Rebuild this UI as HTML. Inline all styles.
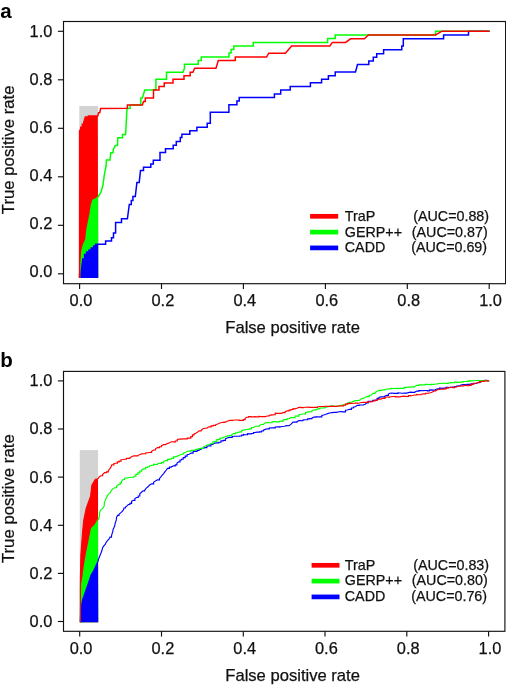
<!DOCTYPE html>
<html><head><meta charset="utf-8"><title>ROC curves</title>
<style>
html,body{margin:0;padding:0;background:#fff;}
svg{display:block;}
text{font-family:"Liberation Sans",Arial,Helvetica,sans-serif;fill:#111;stroke:#111;stroke-width:0.25px;}
.pl{font-size:20.5px;font-weight:bold;fill:#000;stroke:none;}
.tk{font-size:16.4px;}
.ax{font-size:16.75px;}
.lg{font-size:14.3px;}
</style></head>
<body>
<svg width="506" height="685" viewBox="0 0 506 685">
<rect width="506" height="685" fill="#fff"/>
<text x="0.2" y="17.5" class="pl">a</text>
<rect x="79.3" y="106" width="18.8" height="171.9" fill="#d3d3d3"/>
<polygon points="79.6,130.4 80.7,130.4 80.7,127.3 82.3,127.3 82.3,124.2 83.8,124.2 83.8,121.5 84.6,121.5 84.6,119.1 85.3,119.1 85.3,117.1 88.4,117.1 88.4,115.9 97.8,115.9 98.2,277.9 79.3,277.9" fill="#ff0000"/>
<polygon points="79.6,273.8 80.3,267.7 81.1,259.8 81.9,251.9 82.6,247.9 83.8,244 85.8,240 86.2,237.4 87,229.5 88.6,221.6 90.2,213.7 91.3,205.8 92.9,200.3 96.1,198.7 98.2,196.7 98.2,277.9 79.3,277.9" fill="#00ff00"/>
<polygon points="79.6,273.8 80.3,271.6 81.1,266.9 81.9,262.9 82.6,259 84.6,259 84.6,254.6 86.6,254.6 86.6,251.9 89,251.9 89,249.9 91.3,249.9 91.3,247.9 93.7,247.9 93.7,245.9 95.7,245.9 95.7,244.2 98.2,244.2 98.2,277.9 79.3,277.9" fill="#0000ff"/>
<polyline points="79.6,277.9 79.6,273.8 80.3,271.6 81.1,266.9 81.9,262.9 82.6,259 84.6,259 84.6,254.6 86.6,254.6 86.6,251.9 89,251.9 89,249.9 91.3,249.9 91.3,247.9 93.7,247.9 93.7,245.9 95.7,245.9 95.7,244.2 98.2,244.2 105.6,244.2 105.6,241.1 111.5,241.1 111.5,237.8 113.5,237.8 113.5,233 115.6,233 115.6,222.5 121.5,222.5 121.5,218.8 127.4,218.8 129.3,204.5 131.3,204.5 131.3,200.6 132.9,200.6 132.9,196.6 135.3,196.6 136.9,182.4 139.2,182.4 140.5,170.6 143.5,170.6 143.5,167.3 150.8,167.3 150.8,163.9 153.3,163.9 153.3,160.3 160,160.3 160,152.4 165.5,152.4 165.5,148.8 173.2,148.8 173.2,145.3 176.3,145.3 176.3,141.4 180.3,141.4 180.3,137.4 181.9,137.4 181.9,134.3 189.8,134.3 189.8,130.8 196.9,130.8 196.9,127.2 207.2,127.2 207.2,123.2 210.3,123.2 210.3,112.2 228.9,112.2 228.9,104.8 236.9,104.8 236.9,101 239.2,101 239.2,97.4 274.4,97.4 274.4,93.9 280.7,93.9 280.7,90.1 290.2,90.1 290.2,86.4 310.4,86.4 310.4,82.7 321.6,82.7 321.6,79.2 328.4,79.2 328.4,75.8 335.2,75.8 335.2,72 355.5,72 357.5,64.5 368.8,64.5 368.8,61 373.3,61 373.3,57.2 376.7,57.2 376.7,53.7 383.6,53.7 383.6,49.7 401.8,49.7 401.8,46 403.3,46 403.3,38.7 443.6,38.7 443.6,35.1 468.5,35.1 468.5,31.2 489.6,31.2" fill="none" stroke="#0000ff" stroke-width="1.5" stroke-linejoin="miter"/>
<polyline points="79.6,277.9 79.6,273.8 80.3,267.7 81.1,259.8 81.9,251.9 82.6,247.9 83.8,244 85.8,240 86.2,237.4 87,229.5 88.6,221.6 90.2,213.7 91.3,205.8 92.9,200.3 96.1,198.7 98.2,196.7 100.8,192.5 102.9,185.5 104.3,175 106,166.3 106.4,160.1 110,160.1 110.8,152.7 113,152.7 113.4,149.2 115.4,145.6 117.5,145.6 117.8,137.8 122.4,137.8 122.5,134.4 125.6,134.4 126.9,110 127.1,108.4 130.1,108.3 130.1,105 140.8,105 140.8,98 142.4,98 144.8,90 155.9,90 155.9,79.3 166.5,79.3 166.5,72.2 183.1,72.2 184.5,68.2 184.5,64.3 198.2,64.3 198.2,60.6 201.3,60.6 201.3,57 229,57 229,53.1 231.1,53.1 231.1,49.6 233.8,49.6 233.8,46 253.3,46 253.3,42.4 327.6,42.4 327.6,38.6 335.2,38.6 335.2,34.9 435.6,34.9 435.6,31.2 489.6,31.2" fill="none" stroke="#00ff00" stroke-width="1.5" stroke-linejoin="miter"/>
<polyline points="79.6,277.9 79.6,130.4 80.7,130.4 80.7,127.3 82.3,127.3 82.3,124.2 83.8,124.2 83.8,121.5 84.6,121.5 84.6,119.1 85.3,119.1 85.3,117.1 88.4,117.1 88.4,115.9 97.8,115.9 98.6,112.7 99.8,112.5 100.6,108.4 127.4,108.3 127.4,105.1 142.4,105.1 143.5,101.4 145.3,101.4 145.3,97.9 153.5,97.9 153.5,90 159,90 159,86.6 164.2,86.6 164.2,83 173,83 173,79.3 184,79.3 184,75.7 190.2,75.7 190.2,72.2 192.9,72.2 194.7,68.2 216,68.2 218.3,60.6 235.3,60.6 235.3,57 266.6,57 268.7,53.2 285.4,53.2 291.6,46 329.8,46 332.4,42.4 345.6,42.4 350.6,38.8 364.4,38.8 368.4,34.9 435.6,34.9 441.9,31.2 489.6,31.2" fill="none" stroke="#ff0000" stroke-width="1.5" stroke-linejoin="miter"/>
<rect x="63.5" y="21.5" width="442.1" height="262.2" fill="none" stroke="#111" stroke-width="1.15"/>
<line x1="79.6" y1="283.7" x2="79.6" y2="289" stroke="#111" stroke-width="1.15"/>
<text x="81.0" y="306.3" class="tk" text-anchor="middle">0.0</text>
<line x1="57.9" y1="273.8" x2="63.5" y2="273.8" stroke="#111" stroke-width="1.15"/>
<text x="52.4" y="277.4" class="tk" text-anchor="end">0.0</text>
<line x1="161.5" y1="283.7" x2="161.5" y2="289" stroke="#111" stroke-width="1.15"/>
<text x="162.9" y="306.3" class="tk" text-anchor="middle">0.2</text>
<line x1="57.9" y1="225.3" x2="63.5" y2="225.3" stroke="#111" stroke-width="1.15"/>
<text x="52.4" y="229.3" class="tk" text-anchor="end">0.2</text>
<line x1="243.4" y1="283.7" x2="243.4" y2="289" stroke="#111" stroke-width="1.15"/>
<text x="244.8" y="306.3" class="tk" text-anchor="middle">0.4</text>
<line x1="57.9" y1="176.8" x2="63.5" y2="176.8" stroke="#111" stroke-width="1.15"/>
<text x="52.4" y="181.2" class="tk" text-anchor="end">0.4</text>
<line x1="325.4" y1="283.7" x2="325.4" y2="289" stroke="#111" stroke-width="1.15"/>
<text x="326.8" y="306.3" class="tk" text-anchor="middle">0.6</text>
<line x1="57.9" y1="128.3" x2="63.5" y2="128.3" stroke="#111" stroke-width="1.15"/>
<text x="52.4" y="133.1" class="tk" text-anchor="end">0.6</text>
<line x1="407.3" y1="283.7" x2="407.3" y2="289" stroke="#111" stroke-width="1.15"/>
<text x="408.7" y="306.3" class="tk" text-anchor="middle">0.8</text>
<line x1="57.9" y1="79.8" x2="63.5" y2="79.8" stroke="#111" stroke-width="1.15"/>
<text x="52.4" y="85.0" class="tk" text-anchor="end">0.8</text>
<line x1="489.2" y1="283.7" x2="489.2" y2="289" stroke="#111" stroke-width="1.15"/>
<text x="490.6" y="306.3" class="tk" text-anchor="middle">1.0</text>
<line x1="57.9" y1="31.3" x2="63.5" y2="31.3" stroke="#111" stroke-width="1.15"/>
<text x="52.4" y="36.9" class="tk" text-anchor="end">1.0</text>
<text transform="translate(14.2 149.8) rotate(-90)" class="ax" text-anchor="middle">True positive rate</text>
<text x="292.6" y="332.7" class="ax" style="font-size:16.6px" text-anchor="middle">False positive rate</text>
<line x1="310.1" y1="216.3" x2="338.2" y2="216.3" stroke="#ff0000" stroke-width="4.7"/>
<text x="344.8" y="220.9" class="lg">TraP</text>
<text x="413.2" y="220.9" class="lg">(AUC=0.88)</text>
<line x1="310.1" y1="232.1" x2="338.2" y2="232.1" stroke="#00ff00" stroke-width="4.7"/>
<text x="344.8" y="236.5" class="lg">GERP++</text>
<text x="411.8" y="236.5" class="lg">(AUC=0.87)</text>
<line x1="310.1" y1="247.9" x2="338.2" y2="247.9" stroke="#0000ff" stroke-width="4.7"/>
<text x="344.8" y="252.1" class="lg">CADD</text>
<text x="411.2" y="252.1" class="lg">(AUC=0.69)</text>
<text x="0.2" y="366.8" class="pl">b</text>
<rect x="79.8" y="450.1" width="18.3" height="172.1" fill="#d3d3d3"/>
<polygon points="80.3,621.7 80.3,590 80.4,578 80.9,555 82,540 82.8,530 83.8,520 86.2,508.5 90.6,496.3 91.9,485.3 95.4,479.2 98,478.8 98.2,622.2 79.8,622.2" fill="#ff0000"/>
<polygon points="80.3,621.7 80.4,610 80.9,591.9 81.8,583.1 83.1,576 84,568.2 86.2,555 89.7,537.5 91.5,528.5 95.4,524.3 98,519.9 98.2,622.2 79.8,622.2" fill="#00ff00"/>
<polygon points="80.3,621.7 80.4,618 80.9,609.4 82.3,600.6 85.3,591.9 88.4,583.1 91,575.3 93.8,570.5 98,561.2 98.2,622.2 79.8,622.2" fill="#0000ff"/>
<polyline points="80.3,622.2 80.3,621.7 80.4,618 80.9,609.4 82.3,600.6 85.3,591.9 88.4,583.1 91,575.3 93.8,570.5 98,561.2 98.5,559.1 99.5,557.1 100.1,555 101.1,552.7 102,550.3 102.5,548 103.6,546.2 105.2,544.5 106.1,542.6 107.3,540.8 109.1,539 110,537.1 111.5,537.1 111.5,535.9 112.1,533.6 112.8,531.6 113.1,529.5 114,527.5 114.8,525.5 115.1,523.5 115.8,521.5 116.4,519.4 116.5,517.4 117.6,515.4 119,515.4 119,514.3 120.6,512.9 122.2,511.4 123.4,509.9 124,508 125.5,508 125.5,507 127,505.9 128.4,504.5 129.9,504.5 129.9,503.4 131.6,503.4 131.6,501.4 133.2,500.3 134.9,500.3 134.9,498.5 136.5,497.5 138.2,497.5 138.2,496 139.8,496 139.8,493.7 141.4,492.3 143.1,490.9 144.7,490.9 144.7,490.1 146.3,488.1 148,486.8 149.6,485 151.6,483.8 153.6,483.8 153.6,482.3 155.5,480.9 157.5,479.8 159.5,479.8 159.5,478.4 161.1,476.6 162.3,475 163.8,473.4 165,471.7 166.4,470 167.5,468.4 169.4,468.4 169.4,467.1 171.4,467.1 171.4,466.8 173.3,465.9 175.3,465.9 175.3,464.9 176.9,464.9 176.9,463.2 178.5,461.9 180,461.9 180,460 181.6,460 181.6,459.2 183.2,459.2 183.2,457.6 185.2,457.6 185.2,456.1 187.1,456.1 187.1,454.6 189.1,454.2 191.1,453.1 193.1,453.1 193.1,451.4 195.1,451.4 197.1,451.4 197.1,450.3 199.1,450.3 199.1,449.3 201.1,449.3 201.1,448.6 203,448.3 205,447.6 206.9,447.6 206.9,446 208.9,446 208.9,445.8 210.9,445.8 210.9,444.4 212.9,444.4 212.9,444.3 214.8,443.1 216.8,442.9 218.8,442.9 218.8,442.2 221,442.2 221,440.8 223.2,440.8 223.2,440.4 225.4,440.4 225.4,438.9 227.6,437.8 229.8,437.4 232.2,437.4 232.2,436.5 234.7,436.3 237.2,436.2 239.6,436.2 239.6,436 241.6,436 241.6,435.1 243.6,435.1 243.6,434.4 245.5,434.7 247.5,434.7 247.5,433.7 249.5,433.9 251.5,433.9 251.5,433.5 253.5,433.5 253.5,432.6 255.4,432.4 257.4,432.1 259.4,432.1 259.4,431.9 261.4,431.9 261.4,431 263.4,431 263.4,430.2 265.3,429.4 267.3,428.8 269.3,428.8 269.3,428.1 271.3,427.8 273.2,427.8 275.2,427.8 275.2,427 277.2,427 277.2,426.8 279.6,426.8 279.6,427.1 282,426.5 284.3,426.3 286.7,425.6 289.1,425.7 291.1,424.2 293,422 295,422.1 297,422.1 297,421.7 298.9,420.6 300.9,420.6 300.9,420.7 302.9,420.7 302.9,420.1 305.2,419.7 307.6,419.7 307.6,418.8 309.9,418.8 309.9,418.6 311.9,418.6 311.9,418.2 313.9,417.1 315.8,417.1 315.8,416.8 317.8,416.8 317.8,417 319.8,416.9 321.8,416.9 321.8,415.5 323.7,415 325.7,414.5 327.6,413.6 329.6,413 331.9,412.6 334.2,412.4 336.6,412.4 336.6,412.4 338.9,411.8 341.2,411.6 343.5,411.8 345.5,411.8 345.5,410.2 347.4,410 349.4,409.3 351.4,409.3 351.4,408 353.4,408 353.4,407.1 355.3,406.8 357.3,405.3 359.3,405.3 359.3,405 361.2,405 361.2,405 363.2,405 363.2,405 365.2,404.2 366.7,402.9 368.2,402.9 368.2,401.4 370.5,401.4 370.5,401.3 372.8,401.3 372.8,400.2 375.1,400.2 375.1,400 377.1,400 377.1,398.3 379,398.3 379,397.5 381,396.9 383,396.8 385,396.8 385,396 387,395.4 388.4,395.4 388.4,394.1 389.9,393.3 391.9,393 393.9,393.3 396,393.3 398,393.3 398,392.9 400,393 402.1,393.2 404.2,393.2 404.2,393.1 406.3,393.1 406.3,393.2 408.4,392.6 410.5,392.2 412.6,392.3 414.7,392.3 414.7,392.2 416.8,391.1 418.9,391.1 418.9,390.6 421,390.6 421,390.7 423.1,390.7 423.1,390.6 425.1,390.5 427.2,390.5 427.2,390.8 429.3,390.8 429.3,390.1 431.4,389.9 433.5,390.1 435.6,390.1 435.6,389.4 437.7,388.8 439.8,388.8 439.8,388 441.9,388.3 444,388.1 446.1,388.1 446.1,387.2 448.2,387.2 448.2,387.5 450.3,387.5 450.3,387.4 452.4,387.4 452.4,387 454.5,387 454.5,386.6 456.6,386.6 456.6,386 458.7,386 458.7,385.7 460.7,385.7 460.7,385.2 462.8,384.6 464.9,384.6 464.9,384.8 467,384.3 469.1,384.3 469.1,384.6 471.2,383.8 473.3,383.8 473.3,384.1 475.4,383.5 477.5,383 479.1,382.1 480.6,382.1 480.6,381.3 482.7,380.9 484.8,380.3 486.9,380.3 486.9,380.6 489,380.6" fill="none" stroke="#0000ff" stroke-width="1.15" stroke-linejoin="miter"/>
<polyline points="80.3,622.2 80.3,621.7 80.4,610 80.9,591.9 81.8,583.1 83.1,576 84,568.2 86.2,555 89.7,537.5 91.5,528.5 95.4,524.3 98,519.9 99,517.7 99.6,515.5 99.6,512.9 100.3,510.3 102.4,508.6 103.9,506.8 104.3,504.7 104.4,502.7 105.1,500.6 106.2,498.2 107.3,495.8 108.4,494.3 110,492.8 111.3,490.7 112.9,488.6 114.7,487.7 116.6,487.7 116.6,486.3 118.6,484.5 120.1,484.5 120.1,482.9 121.6,482.9 121.6,481.3 123.1,479.5 124.6,479.5 124.6,478 127,478 127,478.1 129.5,477.5 131.9,477.2 133.9,477.2 133.9,476.2 135.9,476.2 135.9,474.4 137.8,474.4 137.8,472.9 139.8,472.9 139.8,471.1 141.8,471.1 141.8,469.7 143.7,468.9 145.7,468.9 145.7,467.5 147.6,467.5 147.6,466.7 149.6,466.7 149.6,466 151.6,465.2 153.6,465.2 153.6,464.2 155.5,464.5 157.5,464.5 157.5,463.9 159.5,463.3 161.5,463.3 161.5,462.6 163.5,462.6 163.5,461.5 165.4,460.6 167.4,460.6 167.4,459.3 169.4,459.3 169.4,459 171.4,459 171.4,458.3 173.4,458.3 173.4,456.8 175.3,456.8 177.3,456.1 179.3,455.2 181.3,454.2 183.2,454.2 183.2,453.2 185.2,452.6 187.2,451.2 189.2,451.1 191.2,451.1 191.2,450.2 193.1,450.2 193.1,450.3 195.1,450.3 195.1,449.9 197.1,449.1 199.1,449.1 199.1,448.8 201.1,448.3 203,448.3 203,447.3 205,446.3 206.9,445.2 208.9,444.5 210.9,443.7 212.9,443.7 212.9,441.9 214.8,441.9 214.8,441.4 216.8,441.4 216.8,439.6 218.4,439.6 218.4,439.4 220,439.4 220,438 222,438.1 223.9,437.2 225.9,436.5 227.8,435.9 229.8,435.9 229.8,435.5 231.8,435.5 231.8,434.6 233.7,433.6 235.7,433.6 235.7,432.7 237.6,432.7 237.6,432.2 239.6,432.2 239.6,431.8 241.6,431.8 241.6,430.9 243.6,429.8 245.5,429.9 247.5,429.2 249.5,429.2 249.5,428.8 251.5,428.8 251.5,427.5 253.5,427.5 253.5,427.5 255.4,426.2 257.4,426.2 259.4,426.2 259.4,425.3 261.4,424.5 263.4,424.5 263.4,424.4 265.3,422.9 267.3,422.5 269.7,422.7 272.1,422.7 272.1,421.8 274.4,421.6 276.8,421.9 279.2,421.9 279.2,421.4 281.2,421.1 283.2,421.1 283.2,419.8 285.1,419.6 287.1,419.6 287.1,418.8 289.1,418.7 291.1,417.4 293,417.6 295,417.6 295,416 296.9,416 296.9,416.1 298.9,416.1 298.9,414.7 301.1,414.2 303.3,414 305.5,414 305.5,412.6 307.7,411.9 309.9,411.9 309.9,411.7 311.9,411.7 311.9,410.8 313.9,409.8 315.8,410.1 317.8,408.8 319.8,408.8 319.8,408 321.8,408 323.7,408 323.7,407.9 325.7,407.6 327.6,406.6 329.6,406.4 331.6,405.9 333.6,405.9 333.6,406.1 335.5,406.2 337.5,406.2 337.5,406 339.5,406 341.5,405.3 343.5,404.8 345.4,404.8 345.4,404 347.4,404 347.4,403.2 349.4,402.3 351.4,402.2 353.4,401.4 355.3,400.6 357.3,400.6 357.3,400.5 359.3,400.4 361.3,398.8 363.3,398.4 365.2,397.3 367.2,396.6 369.2,396.6 369.2,395.3 371.2,395.1 373.1,393.3 375.1,393.3 375.1,392.5 377.1,391.2 379.1,390.4 381.1,390.4 381.1,390.6 383,389.8 385,389.8 385,389.4 387,389 388.9,389 388.9,388.8 390.9,388.8 390.9,388.3 392.9,388.5 395.3,388.5 395.3,388.3 397.6,388.3 397.6,388.6 400,388.4 402.1,388.4 402.1,388.3 404.2,388.3 404.2,387.3 406.3,387.3 406.3,387.3 408.4,387 410.5,387.1 412.6,386.9 414.7,386.9 414.7,386.3 416.8,385.3 418.9,385.3 418.9,384.8 421,384.8 421,384.9 423.1,384.9 425.1,384.9 425.1,384.3 427.2,384.3 427.2,384.3 429.3,384.6 431.4,384.6 431.4,384.2 433.5,384.5 435.6,384 437.7,384 437.7,383.7 439.8,383.5 441.9,383.4 444,383.2 446.1,383.2 446.1,383.3 448.2,383.3 448.2,383 450.3,383 450.3,382.6 452.4,382.6 452.4,382.7 454.5,382.7 454.5,382.1 456.6,382.1 456.6,382.4 458.7,382.4 460.8,382.1 462.8,382.1 462.8,381.6 464.9,381.5 467,381.5 467,381.4 469.1,381.4 469.1,380.6 471.2,380.8 473.4,380.8 473.4,380.9 475.6,380.5 477.9,380.5 477.9,380.4 480.1,380.7 482.3,380.6 484.6,380.6 484.6,380.7 486.8,380.7 489,380.7 489,380.7" fill="none" stroke="#00ff00" stroke-width="1.15" stroke-linejoin="miter"/>
<polyline points="80.3,622.2 80.3,621.7 80.3,590 80.4,578 80.9,555 82,540 82.8,530 83.8,520 86.2,508.5 90.6,496.3 91.9,485.3 95.4,479.2 98,478.8 99,477.2 100.8,475.7 102.6,475.7 102.6,474.5 104.6,472.6 106.4,472.6 106.4,471.8 108.3,471.8 108.3,470.7 109.7,468.8 111,466.9 111.8,464.9 113.9,464.9 113.9,463.4 115.7,463.2 117.4,463.2 117.4,461.8 119.2,461.8 119.2,461.1 121,461.1 121,459.7 122.8,459.5 124.6,459.2 126.4,459.2 126.4,458.2 128.1,458.2 128.1,458.4 129.9,458.4 129.9,457.9 131.9,456.5 133.9,455.9 135.8,455.9 135.8,455.8 137.8,455.8 137.8,455.6 139.8,454.5 141.8,453.9 143.7,453.7 145.7,453.7 145.7,452.9 147.6,452.7 149.6,452.5 151.6,452.5 151.6,451.4 153.6,450 155.5,450 155.5,448.8 157.5,447.6 159.5,447.6 159.5,446.7 161.5,446.7 161.5,445.7 163.5,444.6 165.4,444.6 165.4,444.6 167.4,443.6 169.4,442.8 171.4,441.7 173.4,441.7 173.4,441.8 175.3,441.8 175.3,441 177.3,441 177.3,439.5 179.3,439 181.3,439.1 183.3,438.9 185.2,438.8 187.2,438.8 187.2,438 189.2,438.1 190.8,438.1 190.8,436.6 192.5,436.6 192.5,434.9 194.1,434.9 194.1,433.9 195.8,433.2 197.4,432.2 199.1,430.9 201.1,430.9 201.1,430.2 203,428.8 205,428.2 206.9,428.2 206.9,428 208.9,426.8 211.1,426.8 211.1,425.8 213.3,425.8 213.3,425.4 215.5,425.4 215.5,424.8 217.7,424 219.9,423 221.9,422.5 223.9,422.5 223.9,422.1 225.8,422.1 225.8,421.8 227.8,421 229.8,420.4 232.2,420.4 232.2,420.5 234.5,420 236.9,420 236.9,420 239.2,420 239.2,420.3 241.6,420.3 243.3,420.3 243.3,419.6 245.1,419.6 245.1,418.4 246.8,417.2 248.5,417.2 248.5,416.6 250.6,416.6 250.6,416.9 252.7,416.9 252.7,416.9 254.8,416.9 254.8,416.6 256.9,416.9 259,416.9 259,416.3 261.1,416.6 263.2,416.6 263.2,416.6 265.3,416.6 267.3,416 269.3,416 269.3,415.2 271.2,415.2 271.2,414.8 273.2,414.8 273.2,414.7 275.2,414.7 275.2,413.1 277.2,413.4 279.1,413.4 279.1,413.4 281.1,413.4 281.1,413.4 283.1,412.6 285.1,412.6 285.1,411.9 287.1,410.8 289.1,410.8 289.1,410.1 291.1,410.1 291.1,409.5 293,409.5 293,408.6 295,408.9 296.9,408.2 298.9,407.4 301.1,407.4 301.1,407.6 303.3,407.6 303.3,407.5 305.6,407.3 307.8,407.2 310,407.3 312.4,407.3 314.9,407.3 317.4,407.3 317.4,407 319.8,406.5 322.2,406.5 322.2,406.5 324.7,406.5 324.7,406.2 327.2,406.2 327.2,406.3 329.6,406.3 329.6,406.4 332.1,406.3 334.6,406.3 334.6,406.3 337,406.3 339.5,405.8 341.5,405.9 343.5,405.9 343.5,405.2 345.4,405.2 345.4,404.1 347.4,404.1 347.4,403.6 349.4,403.6 349.4,403.1 351.4,403.4 353.4,403.2 355.3,403.2 355.3,403 357.3,403 357.3,403.3 359.3,403 361.3,402.5 363.3,402.4 365.2,402.4 365.2,402.5 367.2,402.5 367.2,401.9 369.2,401.9 369.2,401.8 371.2,401.8 371.2,401.7 373.2,401 375.1,401 375.1,400.4 377.1,400.4 377.1,400.1 379.1,399.1 381.1,399.1 381.1,398.9 383,398.3 385,398.3 385,397.4 387,397 388.9,397 388.9,397.3 390.9,396.7 393.2,396.5 395.4,396.5 395.4,396.8 397.7,396.8 400,396.8 400,396.7 402.1,396.4 404.2,396.2 406.3,396.5 408.4,396.5 408.4,395.6 410.5,395.6 410.5,395.8 412.6,395.5 414.7,395 416.7,395 416.7,394.4 418.8,394.7 420.9,394.7 420.9,394.4 423.3,393.8 425.6,393.8 425.6,393.2 428,393.2 428,393.3 430.4,392.8 431.9,392.2 433.5,391.2 435.6,390.9 437.7,389.6 439.8,389.2 441.9,389.2 441.9,389.2 444,389.2 444,388.8 446.1,388.8 446.1,387.9 448.2,388.2 450.3,387.3 452.4,387.3 452.4,387.6 454.5,387.6 454.5,387.2 456.6,386.7 458.7,386.3 460.7,385.8 462.8,386.1 464.9,385.4 467,385.4 467,385.7 469.1,385.7 469.1,385.4 471.2,385.4 471.2,384.3 473.3,384.3 473.3,383.2 475.4,383.2 475.4,383.2 477.5,382.7 479.6,382.7 479.6,381.8 482,381.4 484.3,381.4 484.3,381 486.6,381 486.6,380.8 489,380.8 489,380.7" fill="none" stroke="#ff0000" stroke-width="1.15" stroke-linejoin="miter"/>
<rect x="63.5" y="371.4" width="441.4" height="259.9" fill="none" stroke="#111" stroke-width="1.15"/>
<line x1="79.7" y1="631.3" x2="79.7" y2="636.6" stroke="#111" stroke-width="1.15"/>
<text x="81.1" y="654.3" class="tk" text-anchor="middle">0.0</text>
<line x1="57.9" y1="621.5" x2="63.5" y2="621.5" stroke="#111" stroke-width="1.15"/>
<text x="52.4" y="626.8" class="tk" text-anchor="end">0.0</text>
<line x1="161.5" y1="631.3" x2="161.5" y2="636.6" stroke="#111" stroke-width="1.15"/>
<text x="162.9" y="654.3" class="tk" text-anchor="middle">0.2</text>
<line x1="57.9" y1="573.4" x2="63.5" y2="573.4" stroke="#111" stroke-width="1.15"/>
<text x="52.4" y="578.7" class="tk" text-anchor="end">0.2</text>
<line x1="243.3" y1="631.3" x2="243.3" y2="636.6" stroke="#111" stroke-width="1.15"/>
<text x="244.7" y="654.3" class="tk" text-anchor="middle">0.4</text>
<line x1="57.9" y1="525.3" x2="63.5" y2="525.3" stroke="#111" stroke-width="1.15"/>
<text x="52.4" y="530.6" class="tk" text-anchor="end">0.4</text>
<line x1="325.0" y1="631.3" x2="325.0" y2="636.6" stroke="#111" stroke-width="1.15"/>
<text x="326.4" y="654.3" class="tk" text-anchor="middle">0.6</text>
<line x1="57.9" y1="477.1" x2="63.5" y2="477.1" stroke="#111" stroke-width="1.15"/>
<text x="52.4" y="482.5" class="tk" text-anchor="end">0.6</text>
<line x1="406.8" y1="631.3" x2="406.8" y2="636.6" stroke="#111" stroke-width="1.15"/>
<text x="408.2" y="654.3" class="tk" text-anchor="middle">0.8</text>
<line x1="57.9" y1="429.0" x2="63.5" y2="429.0" stroke="#111" stroke-width="1.15"/>
<text x="52.4" y="434.4" class="tk" text-anchor="end">0.8</text>
<line x1="488.6" y1="631.3" x2="488.6" y2="636.6" stroke="#111" stroke-width="1.15"/>
<text x="490.0" y="654.3" class="tk" text-anchor="middle">1.0</text>
<line x1="57.9" y1="380.9" x2="63.5" y2="380.9" stroke="#111" stroke-width="1.15"/>
<text x="52.4" y="386.3" class="tk" text-anchor="end">1.0</text>
<text transform="translate(14.2 498.7) rotate(-90)" class="ax" text-anchor="middle">True positive rate</text>
<text x="292.6" y="680.5" class="ax" style="font-size:16.6px" text-anchor="middle">False positive rate</text>
<line x1="311.6" y1="565.3" x2="339.5" y2="565.3" stroke="#ff0000" stroke-width="4.7"/>
<text x="344.8" y="569.6" class="lg">TraP</text>
<text x="413.2" y="569.6" class="lg">(AUC=0.83)</text>
<line x1="311.6" y1="581.1" x2="339.5" y2="581.1" stroke="#00ff00" stroke-width="4.7"/>
<text x="344.8" y="585.1" class="lg">GERP++</text>
<text x="411.8" y="585.1" class="lg">(AUC=0.80)</text>
<line x1="311.6" y1="596.9" x2="339.5" y2="596.9" stroke="#0000ff" stroke-width="4.7"/>
<text x="344.8" y="600.6" class="lg">CADD</text>
<text x="411.2" y="600.6" class="lg">(AUC=0.76)</text>
</svg>
</body></html>
